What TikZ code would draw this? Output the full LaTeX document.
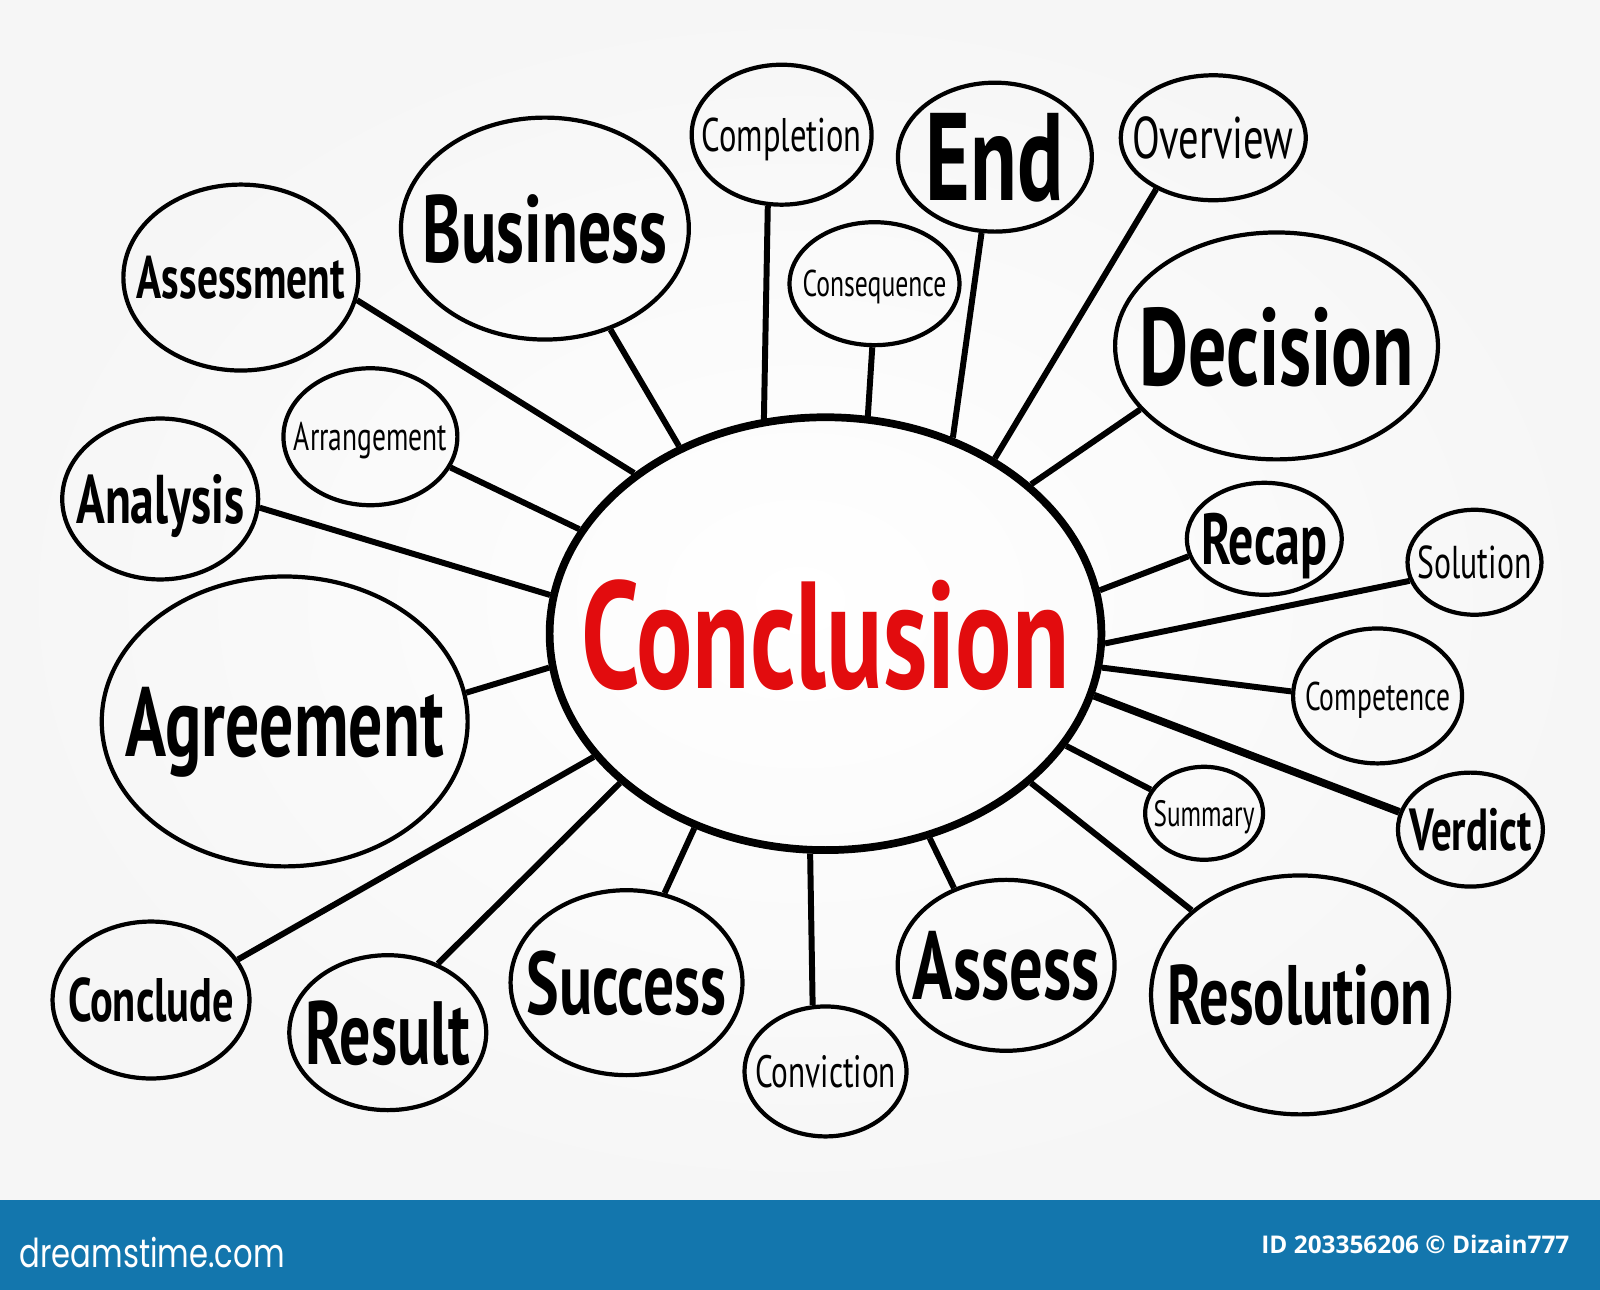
\documentclass[tikz,border=0pt]{standalone}
\usepackage{fontspec}
\usepackage{graphicx}
\setmainfont{PT Sans}
\newfontfamily\logofont{Poppins}
\newfontfamily\idfont{Open Sans}
\usetikzlibrary{shapes.geometric}

\definecolor{hubred}{RGB}{226,12,14}
\definecolor{barblue}{RGB}{19,118,173}

% word squeezed to a given width, drawn tall like marker lettering
\newcommand{\hand}[3][\bfseries]{\makebox[0pt]{\smash{\raisebox{-.5\height}{\resizebox{#2}{!}{\scalebox{1}[1.45]{#1#3}}}}}}

\tikzstyle{hub}=[ellipse, draw, line width=2.2pt, inner sep=0pt, minimum width=5.52cm, minimum height=4.33cm]
\tikzstyle{bubble}=[ellipse, draw, line width=1.2pt, inner sep=0pt]
\tikzstyle{link}=[line width=1.7pt]

\begin{document}
\begin{tikzpicture}[x=0.010204cm, y=-0.010204cm]
    \useasboundingbox (0,0) rectangle (1568,1264);
    \shade [inner color=white, outer color=gray!7] (0,0) rectangle (1568,1176);
    \fill [barblue] (0,1176) rectangle (1568,1264);

    \node [hub, text=hubred] (hub) at (809,621) {\hand{4.88cm}{Conclusion}};

    \node [bubble, minimum width=1.80cm, minimum height=1.40cm] (completion) at (766,132) {\hand[\mdseries]{1.60cm}{Completion}};
    \node [bubble, minimum width=1.94cm, minimum height=1.49cm] (ending) at (975,154) {\hand{1.38cm}{End}};
    \node [bubble, minimum width=1.85cm, minimum height=1.25cm] (overview) at (1189,135) {\hand[\mdseries]{1.61cm}{Overview}};
    \node [bubble, minimum width=2.88cm, minimum height=2.22cm] (business) at (534,224) {\hand{2.45cm}{Business}};
    \node [bubble, minimum width=1.70cm, minimum height=1.23cm] (consequence) at (857,278) {\hand[\mdseries]{1.44cm}{Consequence}};
    \node [bubble, minimum width=2.35cm, minimum height=1.86cm] (assessment) at (236,272) {\hand{2.08cm}{Assessment}};
    \node [bubble, minimum width=3.23cm, minimum height=2.27cm] (decision) at (1251,339) {\hand{2.75cm}{Decision}};
    \node [bubble, minimum width=1.74cm, minimum height=1.37cm] (arrangement) at (363,428) {\hand[\mdseries]{1.53cm}{Arrangement}};
    \node [bubble, minimum width=1.96cm, minimum height=1.61cm] (analysis) at (157,489) {\hand{1.68cm}{Analysis}};
    \node [bubble, minimum width=1.55cm, minimum height=1.12cm] (recap) at (1239,528) {\hand{1.26cm}{Recap}};
    \node [bubble, minimum width=1.34cm, minimum height=1.05cm] (solution) at (1445,551) {\hand[\mdseries]{1.14cm}{Solution}};
    \node [bubble, minimum width=3.66cm, minimum height=2.90cm] (agreement) at (279,707) {\hand{3.18cm}{Agreement}};
    \node [bubble, minimum width=1.69cm, minimum height=1.35cm] (competence) at (1350,682) {\hand[\mdseries]{1.45cm}{Competence}};
    \node [bubble, minimum width=1.18cm, minimum height=0.93cm] (summary) at (1180,797) {\hand[\mdseries]{1.01cm}{Summary}};
    \node [bubble, minimum width=1.45cm, minimum height=1.14cm] (verdict) at (1441,813) {\hand{1.22cm}{Verdict}};
    \node [bubble, minimum width=1.97cm, minimum height=1.57cm] (conclude) at (148,980) {\hand{1.66cm}{Conclude}};
    \node [bubble, minimum width=1.97cm, minimum height=1.55cm] (result) at (380,1012) {\hand{1.65cm}{Result}};
    \node [bubble, minimum width=2.32cm, minimum height=1.85cm] (success) at (614,963) {\hand{2.00cm}{Success}};
    \node [bubble, minimum width=1.62cm, minimum height=1.30cm] (conviction) at (809,1050) {\hand[\mdseries]{1.41cm}{Conviction}};
    \node [bubble, minimum width=2.17cm, minimum height=1.71cm] (assess) at (986,946) {\hand{1.87cm}{Assess}};
    \node [bubble, minimum width=2.98cm, minimum height=2.39cm] (resolution) at (1274,975) {\hand{2.65cm}{Resolution}};

    % spokes
    \draw [link] (hub.140) -- (assessment.-11);
    \draw [link] (hub.128) -- (business.-57);
    \draw [link] (hub.106) -- (completion.-101);
    \draw [link] (hub.79) -- (consequence.-92);
    \draw [link] (hub.57) -- (ending.-100);
    \draw [link] (hub.46) -- (overview.-138);
    \draw [link] (hub.36) -- (decision.205);
    \draw [link] (hub.157) -- (arrangement.-21);
    \draw [link] (hub.172) -- (analysis.-5);
    \draw [link] (hub.187) -- (agreement.9);
    \draw [link] (hub.208) -- (conclude.25);
    \draw [link] (hub.216) -- (result.54);
    \draw [link] (hub.236) -- (success.67);
    \draw [link] (hub.266) -- (conviction.101);
    \draw [link] (hub.-63) -- (assess.124);
    \draw [link] (hub.-36) -- (resolution.142);
    \draw [link] (hub.-25) -- (summary.156);
    \draw [link, line width=2.2pt] (hub.-13) -- (verdict.166);
    \draw [link] (hub.-7) -- (competence.177);
    \draw [link] (hub.-2) -- (solution.196);
    \draw [link] (hub.9) -- (recap.193);

    \node [anchor=west, inner sep=0pt, text=white] (site) at (18.6,1227) {\resizebox{2.65cm}{!}{\scalebox{1}[1.3]{\logofont dreamstime.com}}};
    \node [anchor=east, inner sep=0pt, text=white] (credit) at (1538.6,1219) {\resizebox{3.08cm}{!}{\idfont\bfseries ID 203356206 © Dizain777}};
\end{tikzpicture}
\end{document}
